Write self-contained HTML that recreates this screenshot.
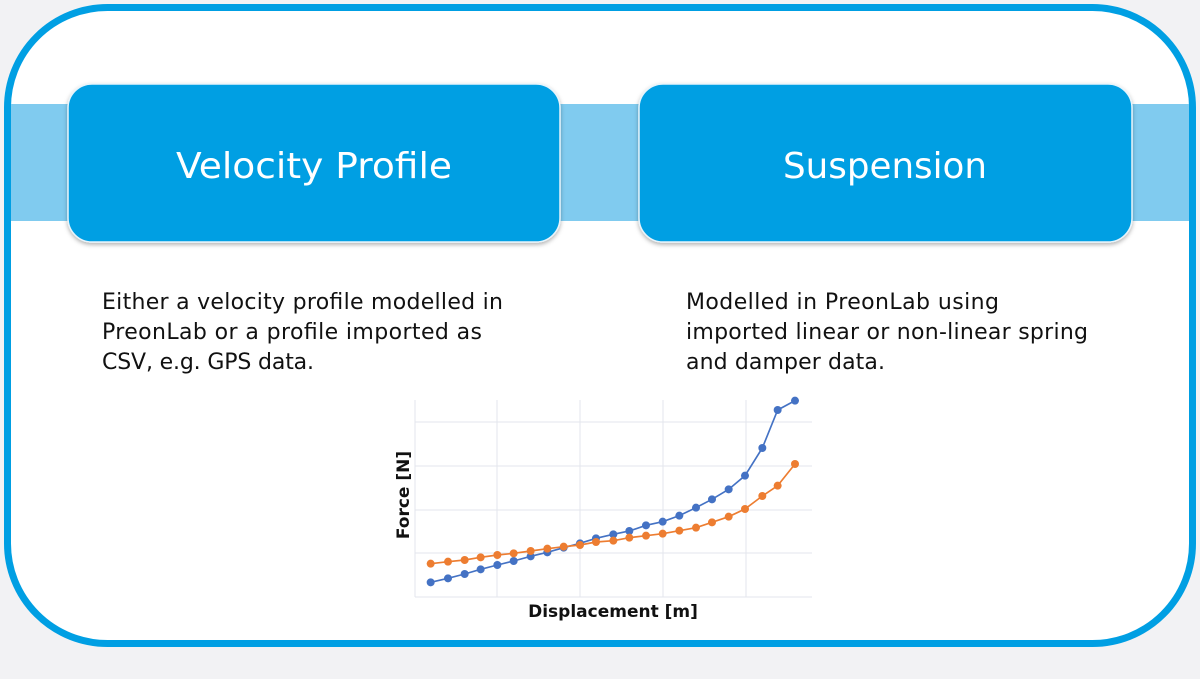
<!DOCTYPE html>
<html><head><meta charset="utf-8"><style>
body{margin:0;width:1200px;height:674px;background:#f2f2f4;overflow:hidden;font-family:"Liberation Sans","DejaVu Sans",sans-serif}
</style></head><body>
<svg width="1200" height="674" xmlns="http://www.w3.org/2000/svg">
<defs><filter id="sh" x="-10%" y="-10%" width="120%" height="130%"><feDropShadow dx="0" dy="2" stdDeviation="2" flood-color="#000" flood-opacity="0.3"/></filter></defs>
<rect x="7.5" y="7.5" width="1185" height="636" rx="100" fill="#fff" stroke="#009fe3" stroke-width="7"/>
<rect x="11" y="104" width="1178" height="117" fill="#80cbef"/>
<rect x="68" y="84" width="492" height="158" rx="24" fill="#009fe3" stroke="#e8f4fb" stroke-width="1.5" filter="url(#sh)"/>
<rect x="639" y="84" width="493" height="158" rx="24" fill="#009fe3" stroke="#e8f4fb" stroke-width="1.5" filter="url(#sh)"/>
<text x="314" y="178" text-anchor="middle" fill="#fff" font-size="36" font-family="DejaVu Sans, sans-serif" textLength="276" lengthAdjust="spacingAndGlyphs">Velocity Profile</text>
<text x="885" y="178" text-anchor="middle" fill="#fff" font-size="36" font-family="DejaVu Sans, sans-serif" textLength="204" lengthAdjust="spacingAndGlyphs">Suspension</text>
<g font-size="22" fill="#111" font-family="DejaVu Sans, sans-serif" lengthAdjust="spacingAndGlyphs">
<text x="102" y="309" textLength="401">Either a velocity profile modelled in</text>
<text x="102" y="339" textLength="380">PreonLab or a profile imported as</text>
<text x="102" y="369" textLength="212">CSV, e.g. GPS data.</text>
<text x="686" y="309" textLength="313">Modelled in PreonLab using</text>
<text x="686" y="339" textLength="402">imported linear or non-linear spring</text>
<text x="686" y="369" textLength="199">and damper data.</text>
</g>
<g stroke="#e3e6ec" stroke-width="1">
<line x1="415" y1="400" x2="415" y2="597"/><line x1="497" y1="400" x2="497" y2="597"/><line x1="580" y1="400" x2="580" y2="597"/><line x1="663" y1="400" x2="663" y2="597"/><line x1="746" y1="400" x2="746" y2="597"/>
<line x1="415" y1="422" x2="812" y2="422"/><line x1="415" y1="466" x2="812" y2="466"/><line x1="415" y1="510" x2="812" y2="510"/><line x1="415" y1="553" x2="812" y2="553"/><line x1="415" y1="597" x2="812" y2="597"/>
</g>
<g transform="translate(380,390) scale(0.33333)">
<polyline fill="none" stroke="#4472c4" stroke-width="5" points="152,577 204,565 254,552 302,538 352,525 401,513 452,499 502,487 551,473 600,460 648,445 700,433 748,423 798,406 848,395 898,377 948,353 996,328 1046,298 1095,257 1147,174 1193,60 1245,32"/>
<polyline fill="none" stroke="#ed7d31" stroke-width="5" points="152,521 204,515 254,510 302,502 352,495 401,490 452,483 502,476 551,470 600,465 648,456 700,452 748,443 798,437 848,431 898,422 948,413 996,397 1046,380 1095,357 1147,318 1193,287 1245,222"/>
<g fill="#4472c4">
<circle cx="152" cy="577" r="12"/><circle cx="204" cy="565" r="12"/><circle cx="254" cy="552" r="12"/><circle cx="302" cy="538" r="12"/><circle cx="352" cy="525" r="12"/><circle cx="401" cy="513" r="12"/><circle cx="452" cy="499" r="12"/><circle cx="502" cy="487" r="12"/><circle cx="551" cy="473" r="12"/><circle cx="600" cy="460" r="12"/><circle cx="648" cy="445" r="12"/><circle cx="700" cy="433" r="12"/><circle cx="748" cy="423" r="12"/><circle cx="798" cy="406" r="12"/><circle cx="848" cy="395" r="12"/><circle cx="898" cy="377" r="12"/><circle cx="948" cy="353" r="12"/><circle cx="996" cy="328" r="12"/><circle cx="1046" cy="298" r="12"/><circle cx="1095" cy="257" r="12"/><circle cx="1147" cy="174" r="12"/><circle cx="1193" cy="60" r="12"/><circle cx="1245" cy="32" r="12"/>
</g>
<g fill="#ed7d31">
<circle cx="152" cy="521" r="12"/><circle cx="204" cy="515" r="12"/><circle cx="254" cy="510" r="12"/><circle cx="302" cy="502" r="12"/><circle cx="352" cy="495" r="12"/><circle cx="401" cy="490" r="12"/><circle cx="452" cy="483" r="12"/><circle cx="502" cy="476" r="12"/><circle cx="551" cy="470" r="12"/><circle cx="600" cy="465" r="12"/><circle cx="648" cy="456" r="12"/><circle cx="700" cy="452" r="12"/><circle cx="748" cy="443" r="12"/><circle cx="798" cy="437" r="12"/><circle cx="848" cy="431" r="12"/><circle cx="898" cy="422" r="12"/><circle cx="948" cy="413" r="12"/><circle cx="996" cy="397" r="12"/><circle cx="1046" cy="380" r="12"/><circle cx="1095" cy="357" r="12"/><circle cx="1147" cy="318" r="12"/><circle cx="1193" cy="287" r="12"/><circle cx="1245" cy="222" r="12"/>
</g>
</g>
<text x="613" y="617" text-anchor="middle" font-size="17" font-weight="bold" fill="#111" font-family="DejaVu Sans, sans-serif">Displacement [m]</text>
<text transform="translate(409,495) rotate(-90)" text-anchor="middle" font-size="17" font-weight="bold" fill="#111" font-family="DejaVu Sans, sans-serif">Force [N]</text>
</svg>
</body></html>
